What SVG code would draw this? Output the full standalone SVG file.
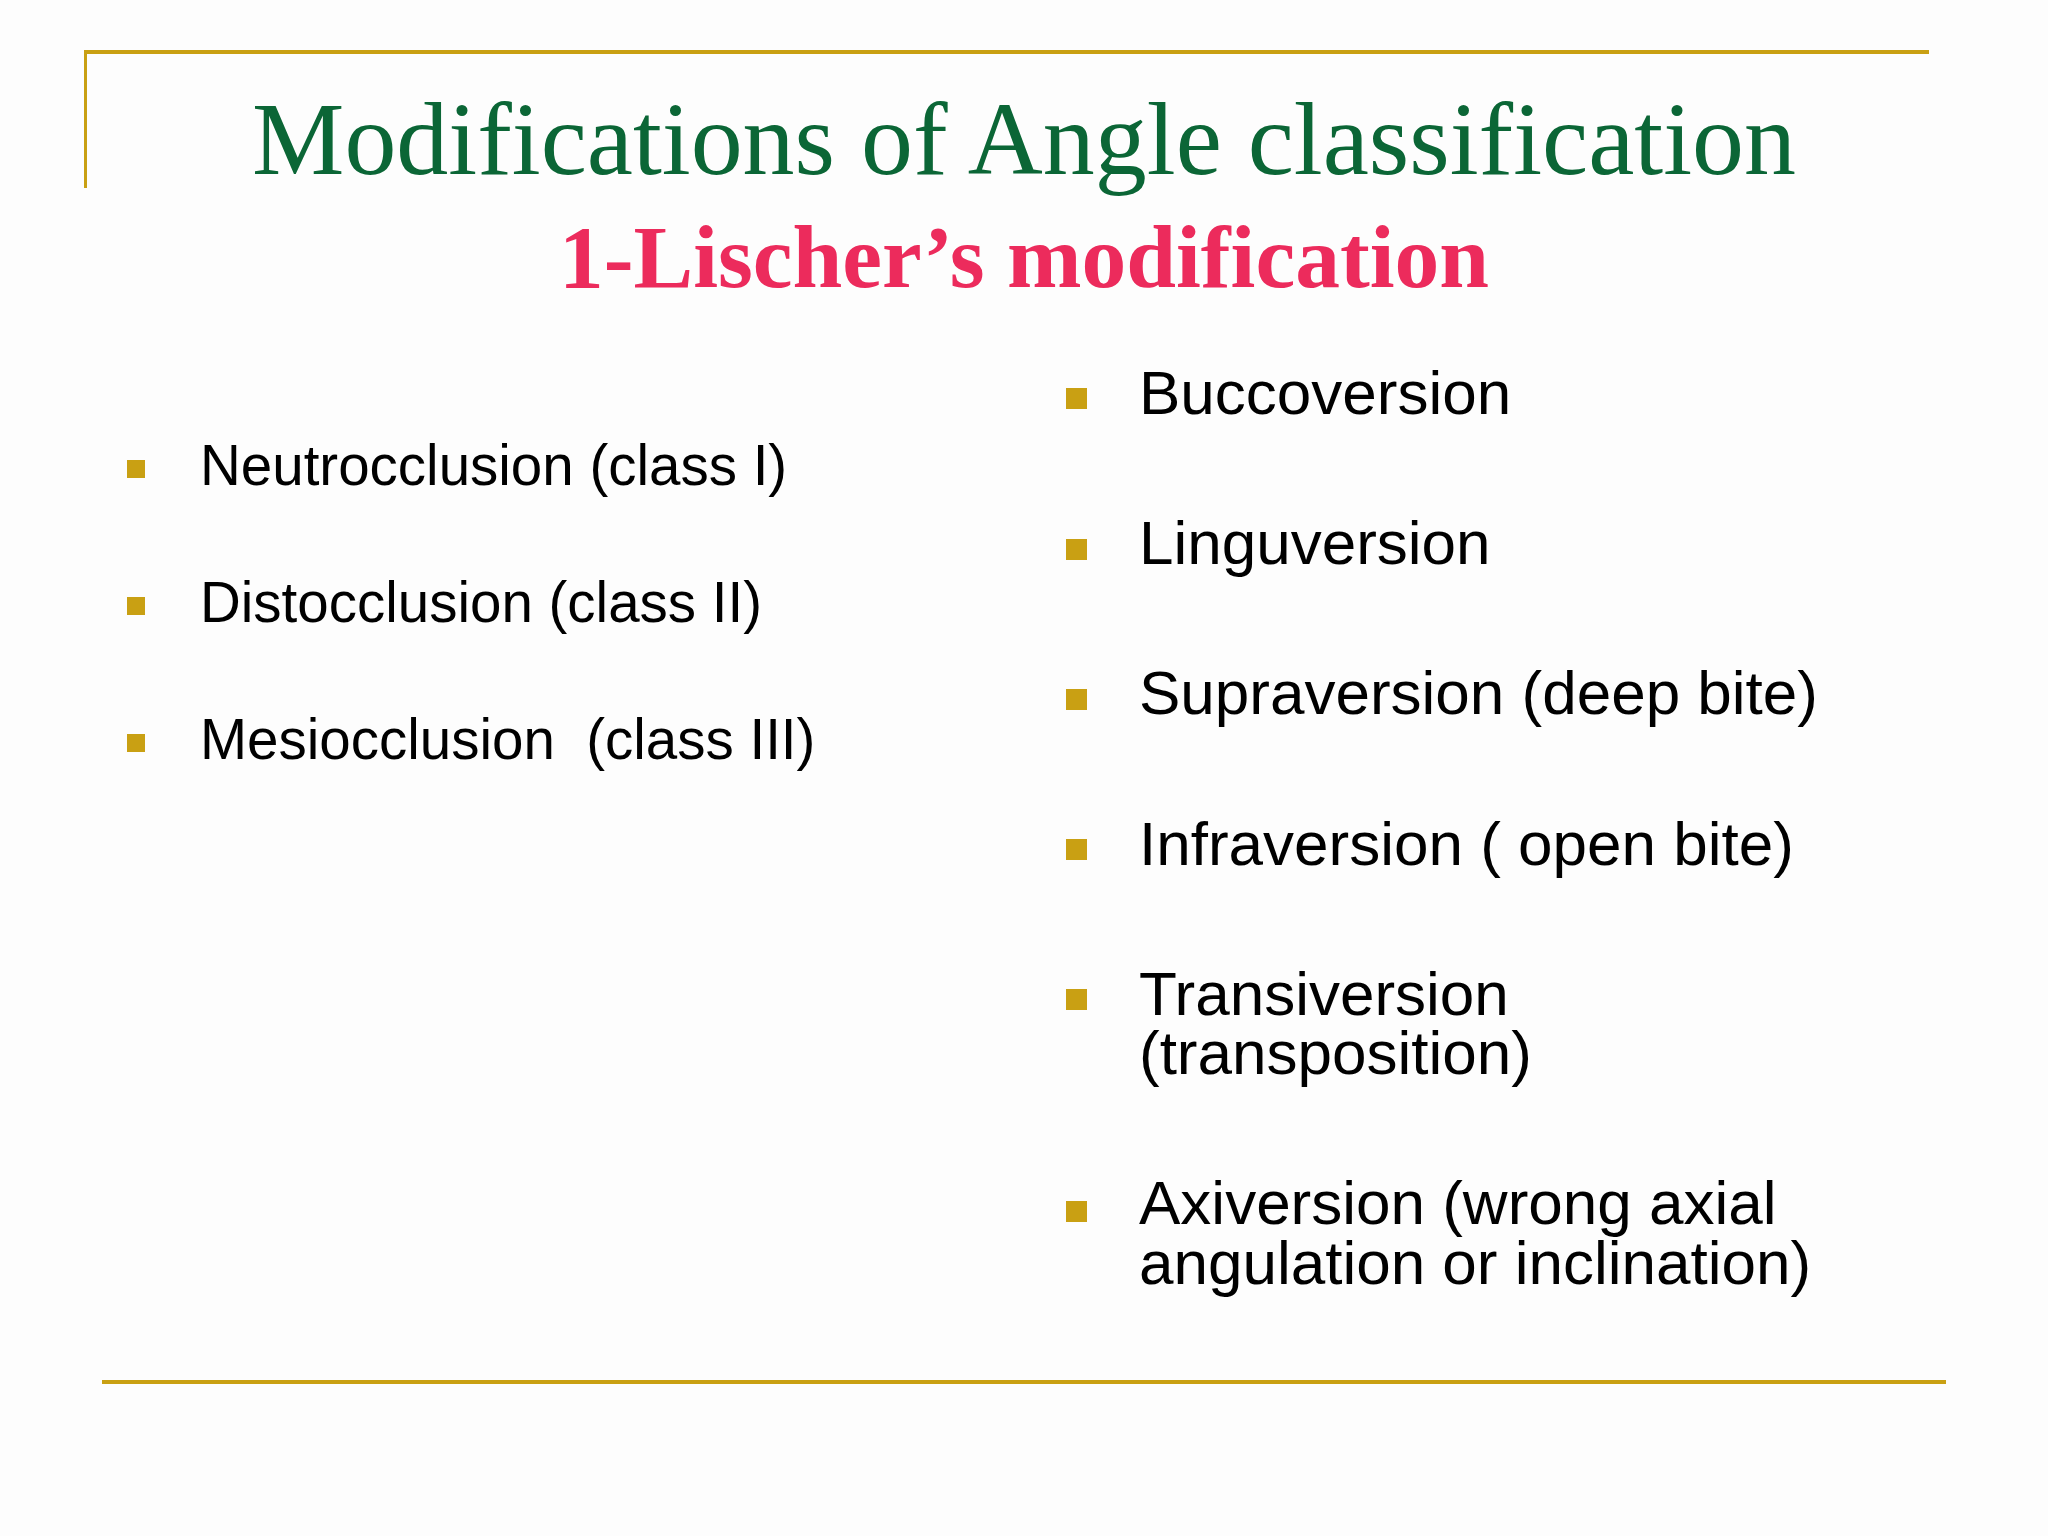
<svg xmlns="http://www.w3.org/2000/svg" width="2048" height="1536" viewBox="0 0 2048 1536">
<style>
.g{fill:#c9a013}
.l{font-family:"Liberation Sans",Arial,sans-serif;font-size:56.5px;fill:#000}
.r{font-family:"Liberation Sans",Arial,sans-serif;font-size:62px;fill:#000}
</style>
<rect width="2048" height="1536" fill="#fdfdfd"/>
<rect x="84" y="50" width="1845" height="4" class="g"/>
<rect x="84" y="50" width="3" height="138" class="g"/>
<rect x="102" y="1380" width="1844" height="4" class="g"/>
<g id="title"><text x="1024" y="174" text-anchor="middle" font-family="'Liberation Serif',serif" font-size="104" fill="#0b6636" textLength="1544" lengthAdjust="spacingAndGlyphs">Modifications of  Angle classification</text></g>
<g id="subtitle"><text x="1024" y="287" text-anchor="middle" font-family="'Liberation Serif',serif" font-weight="bold" font-size="88" fill="#ec2b5c" textLength="930" lengthAdjust="spacingAndGlyphs">1-Lischer’s modification</text></g>
<g id="left">
<rect x="127" y="460" width="18" height="18" class="g"/><text x="200" y="485" class="l">Neutrocclusion (class I)</text>
<rect x="127" y="597" width="18" height="18" class="g"/><text x="200" y="622" class="l">Distocclusion (class II)</text>
<rect x="127" y="734" width="18" height="18" class="g"/><text x="200" y="759" class="l" xml:space="preserve">Mesiocclusion  (class III)</text>
</g>
<g id="right">
<rect x="1066" y="388" width="21" height="21" class="g"/><text x="1139" y="414" class="r">Buccoversion</text>
<rect x="1066" y="539" width="21" height="21" class="g"/><text x="1139" y="564" class="r">Linguversion</text>
<rect x="1066" y="689" width="21" height="21" class="g"/><text x="1139" y="714" class="r">Supraversion (deep bite)</text>
<rect x="1066" y="839" width="21" height="21" class="g"/><text x="1139" y="865" class="r">Infraversion ( open bite)</text>
<rect x="1066" y="989" width="21" height="21" class="g"/><text x="1139" y="1015" class="r">Transiversion</text><text x="1139" y="1074" class="r">(transposition)</text>
<rect x="1066" y="1201" width="21" height="21" class="g"/><text x="1139" y="1224" class="r">Axiversion (wrong axial</text><text x="1139" y="1284" class="r">angulation or inclination)</text>
</g>
</svg>
